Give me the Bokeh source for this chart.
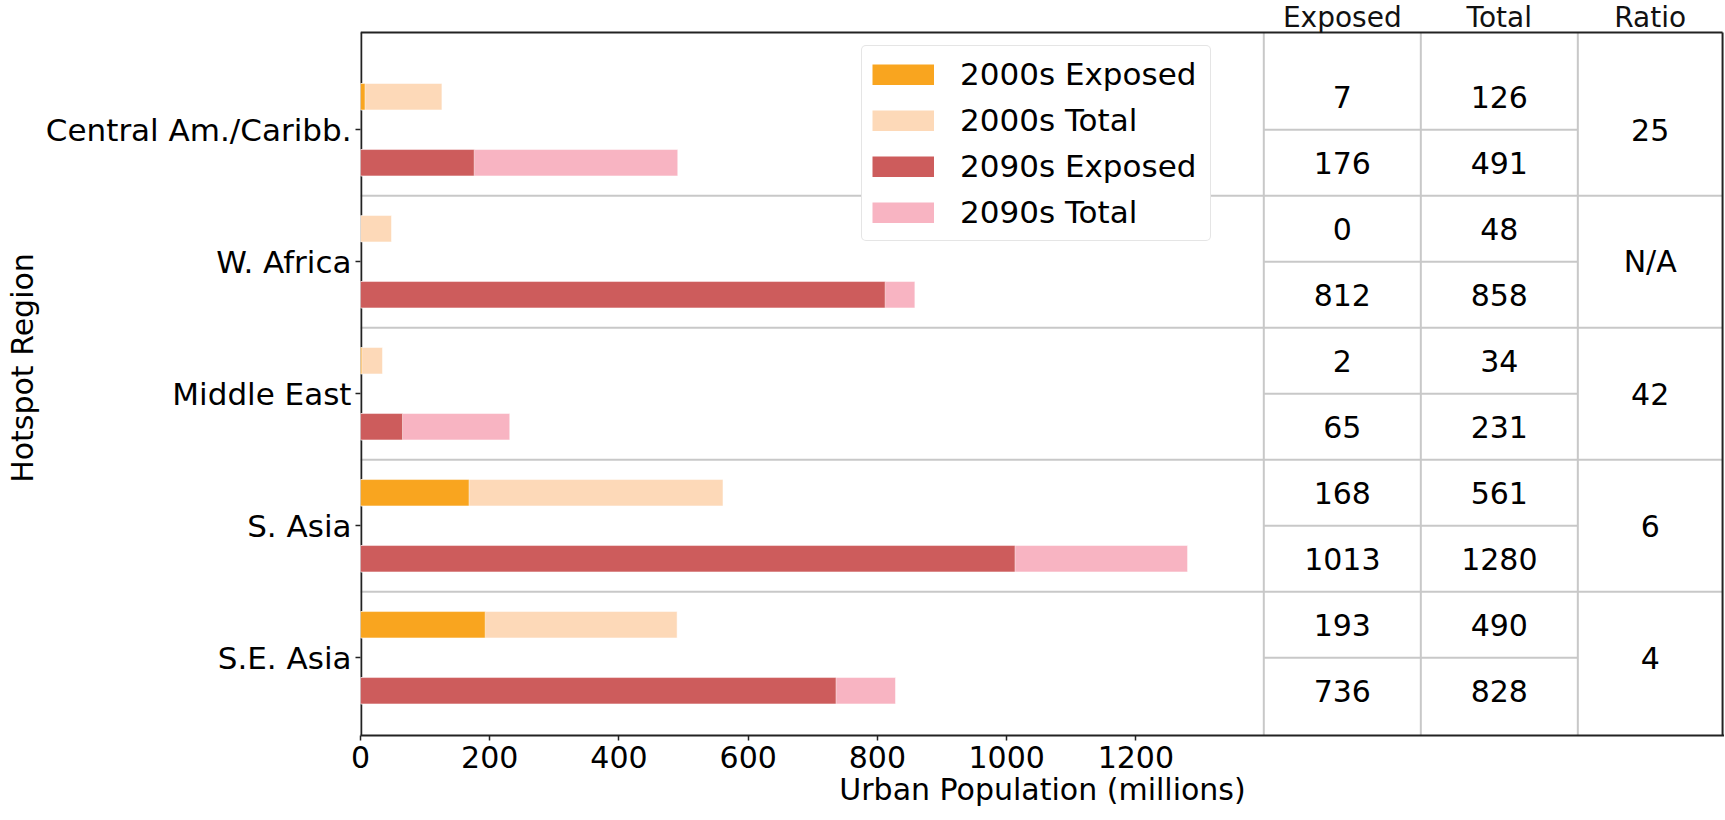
from bokeh.plotting import figure
from bokeh.models import FixedTicker, Legend, LegendItem, ColumnDataSource
from bokeh.core.properties import value
from bokeh.embed import file_html
from bokeh.resources import INLINE

# ---------------- data ----------------
regions = ["S.E. Asia", "S. Asia", "Middle East", "W. Africa", "Central Am./Caribb."]
exposed_2000s = [193, 168, 2, 0, 7]
total_2000s = [490, 561, 34, 48, 126]
exposed_2090s = [736, 1013, 65, 812, 176]
total_2090s = [828, 1280, 231, 858, 491]
ratios = ["4", "6", "42", "N/A", "25"]
x_ticks = [0, 200, 400, 600, 800, 1000, 1200]
headers = ["Exposed", "Total", "Ratio"]
legend_labels = ["2000s Exposed", "2000s Total", "2090s Exposed", "2090s Total"]

# ---------------- layout ----------------
FONT = "DejaVu Sans"
FS = "30px"
Y_START, Y_END = -0.589, 4.737      # box bottom / top (data units)
Y_TOP = 4.979                        # frame top (room for the header row)
HEADER_Y = Y_END + 0.115
X_END = 2108                         # box right edge
X_FRAME_END = X_END + 3
TABLE_EDGES = [1398, 1641, 1884, X_END]
COL_CENTERS = [(TABLE_EDGES[i] + TABLE_EDGES[i + 1]) / 2 for i in range(3)]
OFF = 0.25
BAR_H = 0.2

C_EXP00 = "#F9A51F"
C_TOT00 = "#FDD9B8"
C_EXP90 = "#CD5C5C"
C_TOT90 = "#F8B4C2"
GRID_C = "#c8c8c8"
EDGE_C = "#222222"

n = len(regions)
ys = list(range(n))

p = figure(width=1724, height=816, output_backend="svg", toolbar_location=None,
           x_range=(0, X_FRAME_END), y_range=(Y_START, Y_TOP),
           min_border_left=360, min_border_right=0, min_border_top=0, min_border_bottom=81)
p.xgrid.visible = False
p.ygrid.visible = False
p.outline_line_color = None
p.background_fill_color = "white"
p.border_fill_color = "white"

# separators and table lines (glyphs, under the legend)
sep_y = [i + 0.5 for i in range(n - 1)]
p.segment(x0=[0] * len(sep_y), x1=[X_END] * len(sep_y), y0=sep_y, y1=sep_y,
          line_color=GRID_C, line_width=2)
p.segment(x0=[TABLE_EDGES[0]] * n, x1=[TABLE_EDGES[2]] * n, y0=ys, y1=ys,
          line_color=GRID_C, line_width=2)
p.segment(x0=TABLE_EDGES[:3], x1=TABLE_EDGES[:3], y0=[Y_START] * 3, y1=[Y_END] * 3,
          line_color=GRID_C, line_width=2)

# box borders: top, right, left
p.segment(x0=[0, X_END, 0], x1=[X_END, X_END, 0], y0=[Y_END, Y_START, Y_START],
          y1=[Y_END, Y_END, Y_END], line_color=EDGE_C, line_width=[2, 2, 3.5])

src = ColumnDataSource(dict(
    y00=[y + OFF for y in ys], y90=[y - OFF for y in ys],
    e00=exposed_2000s, t00=total_2000s, e90=exposed_2090s, t90=total_2090s,
))

bar_kw = dict(height=BAR_H, source=src, line_color="white", line_alpha=0.5, line_width=1)
p.hbar(y="y00", left=0, right="t00", fill_color=C_TOT00, **bar_kw)
p.hbar(y="y00", left=0, right="e00", fill_color=C_EXP00, **bar_kw)
p.hbar(y="y90", left=0, right="t90", fill_color=C_TOT90, **bar_kw)
p.hbar(y="y90", left=0, right="e90", fill_color=C_EXP90, **bar_kw)

# legend proxies: thick lines (one NaN point, draws nothing) fill the full swatch box
nan = float("nan")
proxies = []
for c in [C_EXP00, C_TOT00, C_EXP90, C_TOT90]:
    proxies.append(p.line(x=[nan], y=[nan], line_color=c, line_width=21, line_cap="butt"))

# table texts
tsrc = ColumnDataSource(dict(
    x=[COL_CENTERS[0]] * n + [COL_CENTERS[1]] * n + [COL_CENTERS[0]] * n + [COL_CENTERS[1]] * n + [COL_CENTERS[2]] * n,
    y=[y + OFF for y in ys] * 2 + [y - OFF for y in ys] * 2 + ys,
    t=[str(v) for v in exposed_2000s] + [str(v) for v in total_2000s]
      + [str(v) for v in exposed_2090s] + [str(v) for v in total_2090s] + ratios,
))
p.text(x="x", y="y", text="t", source=tsrc, text_align="center", text_baseline="middle",
       text_font=value(FONT), text_font_size=FS, text_color="black")

# header row
p.text(x=COL_CENTERS, y=[HEADER_Y] * 3, text=headers, text_align="center",
       text_baseline="alphabetic", text_font=value(FONT), text_font_size="28px",
       text_color="#111111")

# axes
p.xaxis.ticker = FixedTicker(ticks=x_ticks)
p.xaxis.axis_label = "Urban Population (millions)"
p.yaxis.ticker = FixedTicker(ticks=ys)
p.yaxis.major_label_overrides = {i: r for i, r in enumerate(regions)}
p.yaxis.axis_label = "Hotspot Region"
for ax in (p.xaxis[0], p.yaxis[0]):
    ax.axis_label_text_font = FONT
    ax.axis_label_text_font_size = FS
    ax.axis_label_text_font_style = "normal"
    ax.axis_label_text_color = "black"
    ax.major_label_text_font = FONT
    ax.major_label_text_font_size = FS
    ax.major_label_text_color = "black"
    ax.axis_line_color = EDGE_C
    ax.axis_line_width = 2
    ax.major_tick_line_color = EDGE_C
    ax.major_tick_line_width = 1.5
    ax.major_tick_out = 5
    ax.major_tick_in = 0
    ax.minor_tick_line_color = None
p.yaxis.axis_line_color = None
p.yaxis.major_label_text_font_size = "31px"
p.yaxis.major_label_standoff = 4
p.yaxis.axis_label_standoff = 3
p.xaxis.major_label_standoff = 5
p.xaxis.axis_label_standoff = 1

legend = Legend(items=[LegendItem(label=lab, renderers=[r]) for lab, r in zip(legend_labels, proxies)],
                location=(501, 494))
legend.label_text_font = FONT
legend.label_text_font_size = "31px"
legend.label_text_color = "black"
legend.glyph_width = 62
legend.glyph_height = 21
legend.label_standoff = 26
legend.label_width = 240
legend.padding = 10
legend.spacing = 10
legend.border_line_color = "#cccccc"
legend.border_line_width = 1.5
legend.background_fill_alpha = 1.0
if "border_radius" in legend.properties():
    legend.border_radius = 5
p.add_layout(legend)

open("out.html", "w").write(file_html(p, INLINE))
